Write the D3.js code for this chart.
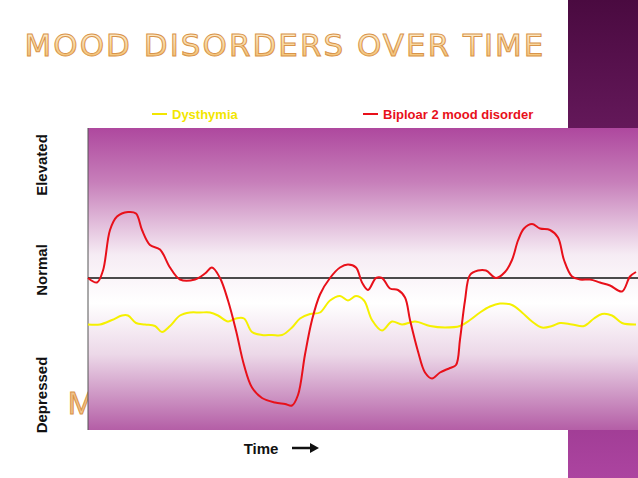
<!DOCTYPE html>
<html><head><meta charset="utf-8">
<script src="https://cdn.jsdelivr.net/npm/d3@7"></script>
<style>body{margin:0;background:#fff}svg{display:block}</style>
</head><body>
<svg id="c" width="638" height="478"></svg>
<script>
// time index (0..548) and mood level (-1 depressed .. +1 elevated, 0 normal)
const bipolarTime = [0,9,15,22,29,40,48,54,62,72,82,92,107,117,124,132,140,148,156,164,174,187,197,204,210,217,224,232,242,252,260,268,274,280,288,294,302,310,317,322,330,337,344,352,362,368,372,377,382,390,398,408,417,424,430,436,444,452,462,470,476,484,492,502,512,522,534,542,548];
const bipolarMood = [0,-0.03,0.05,0.32,0.41,0.44,0.43,0.32,0.22,0.19,0.07,-0.01,-0.01,0.03,0.07,0,-0.15,-0.35,-0.58,-0.73,-0.8,-0.83,-0.84,-0.85,-0.78,-0.51,-0.28,-0.11,0,0.07,0.09,0.07,-0.03,-0.08,0,0,-0.07,-0.08,-0.13,-0.28,-0.49,-0.63,-0.67,-0.63,-0.6,-0.58,-0.41,-0.15,0.02,0.05,0.05,0,0.04,0.12,0.25,0.33,0.36,0.33,0.32,0.27,0.12,0.01,-0.01,-0.01,-0.03,-0.05,-0.09,0.01,0.04];
const dysTime = [0,12,24,34,40,48,57,67,74,82,92,102,112,122,130,140,148,156,164,174,184,194,204,212,222,232,242,252,260,268,276,284,294,304,314,327,342,357,372,382,392,402,412,424,434,444,454,464,472,484,496,506,514,524,534,548];
const dysMood = [-0.31,-0.31,-0.28,-0.25,-0.25,-0.3,-0.31,-0.32,-0.36,-0.32,-0.25,-0.23,-0.23,-0.23,-0.25,-0.29,-0.27,-0.27,-0.36,-0.38,-0.38,-0.38,-0.33,-0.27,-0.24,-0.23,-0.15,-0.12,-0.15,-0.12,-0.15,-0.28,-0.35,-0.29,-0.31,-0.29,-0.32,-0.33,-0.32,-0.28,-0.23,-0.19,-0.17,-0.18,-0.23,-0.29,-0.33,-0.32,-0.3,-0.31,-0.32,-0.27,-0.24,-0.25,-0.3,-0.31];
const yLabels = ["Elevated","Normal","Depressed"];
const yLabelPos = [165,270,395];

const svg = d3.select("#c");
const defs = svg.append("defs");
const sg = defs.append("linearGradient").attr("id","strip").attr("x1",0).attr("y1",0).attr("x2",0).attr("y2",1);
sg.append("stop").attr("offset","0%").attr("stop-color","#4a0a40");
sg.append("stop").attr("offset","50%").attr("stop-color","#7a2470");
sg.append("stop").attr("offset","100%").attr("stop-color","#ac44a0");
const pg = defs.append("linearGradient").attr("id","plot").attr("x1",0).attr("y1",0).attr("x2",0).attr("y2",1);
[[0,"#ae489e"],[0.18,"#c77fba"],[0.42,"#f6ecf4"],[0.58,"#ffffff"],[0.75,"#ecd8e8"],[1,"#b45ea6"]].forEach(s=>pg.append("stop").attr("offset",s[0]).attr("stop-color",s[1]));
const tg = defs.append("linearGradient").attr("id","title").attr("x1",0).attr("y1",0).attr("x2",0).attr("y2",1);
tg.append("stop").attr("offset","0%").attr("stop-color","#fff6e0");
tg.append("stop").attr("offset","100%").attr("stop-color","#f0b860");

svg.append("rect").attr("x",568).attr("y",0).attr("width",70).attr("height",478).attr("fill","url(#strip)");

svg.append("text").attr("x",285).attr("y",56).attr("text-anchor","middle")
  .attr("font-family","Verdana, 'DejaVu Sans', sans-serif").attr("font-size",31).attr("letter-spacing",2)
  .attr("fill","url(#title)").attr("stroke","#d9944a").attr("stroke-width",1).text("MOOD DISORDERS OVER TIME");
svg.append("text").attr("x",68).attr("y",414).attr("font-family","Verdana, sans-serif").attr("font-size",32)
  .attr("fill","#f2c48a").attr("stroke","#d9944a").text("M");

const L = 88, R = 638, T = 128, B = 430;
svg.append("rect").attr("x",L).attr("y",T).attr("width",R-L).attr("height",B-T).attr("fill","url(#plot)");
svg.append("line").attr("x1",L).attr("x2",L).attr("y1",T).attr("y2",B).attr("stroke","#555");

const x = d3.scaleLinear().domain([0,548]).range([L,L+548]);
const y = d3.scaleLinear().domain([-1,1]).range([428,128]);
svg.append("line").attr("x1",L).attr("x2",R).attr("y1",y(0)).attr("y2",y(0)).attr("stroke","#111").attr("stroke-width",1.3);

const line = d3.line().curve(d3.curveCatmullRom.alpha(0.5)).x(d=>x(d[0])).y(d=>y(d[1]));
svg.append("path").datum(d3.zip(dysTime,dysMood)).attr("d",line).attr("fill","none").attr("stroke","#f5f000").attr("stroke-width",2);
svg.append("path").datum(d3.zip(bipolarTime,bipolarMood)).attr("d",line).attr("fill","none").attr("stroke","#e8101a").attr("stroke-width",2);

yLabels.forEach((t,i)=>svg.append("text").attr("transform",`translate(47,${yLabelPos[i]}) rotate(-90)`)
  .attr("text-anchor","middle").attr("font-family","Arial, 'Liberation Sans', sans-serif").attr("font-weight","bold")
  .attr("font-size",15).attr("fill","#111").text(t));

svg.append("text").attr("x",261).attr("y",454).attr("text-anchor","middle").attr("font-family","Arial, 'Liberation Sans', sans-serif")
  .attr("font-weight","bold").attr("font-size",15).attr("fill","#111").text("Time");
svg.append("line").attr("x1",292).attr("x2",312).attr("y1",448).attr("y2",448).attr("stroke","#111").attr("stroke-width",2.5);
svg.append("path").attr("d","M310,443 L319,448 L310,453 Z").attr("fill","#111");

const leg = [["Dysthymia","#f2e600",152],["Biploar 2 mood disorder","#e8101a",363]];
leg.forEach(l=>{
  svg.append("line").attr("x1",l[2]).attr("x2",l[2]+15).attr("y1",114).attr("y2",114).attr("stroke",l[1]).attr("stroke-width",2);
  svg.append("text").attr("x",l[2]+20).attr("y",119).attr("font-family","Arial, 'Liberation Sans', sans-serif")
    .attr("font-weight","bold").attr("font-size",13).attr("fill",l[1]).text(l[0]);
});
</script>
</body></html>
